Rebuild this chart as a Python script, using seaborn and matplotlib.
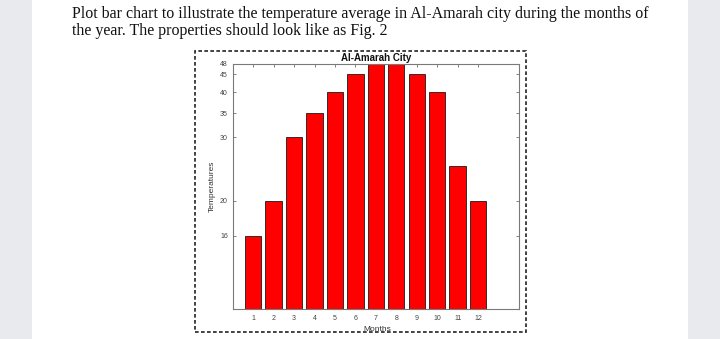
import matplotlib
matplotlib.use("Agg")
import matplotlib.pyplot as plt
from matplotlib.patches import Rectangle
from matplotlib.ticker import FixedLocator, NullLocator, FixedFormatter
import pandas as pd
import seaborn as sns

# Monthly average temperatures for Al-Amarah
months = [1, 2, 3, 4, 5, 6, 7, 8, 9, 10, 11, 12]
temps = [16, 20, 30, 35, 40, 45, 48, 48, 45, 40, 25, 20]
ytick_values = [16, 20, 30, 35, 40, 45, 48]

heading_lines = [
    "Plot bar chart to illustrate the temperature average in Al-Amarah city during the months of",
    "the year. The properties should look like as Fig. 2",
]
chart_title = "Al-Amarah City"
x_title = "Months"
y_title = "Temperatures"

sns.set_style("ticks")
plt.rcParams["font.family"] = ["Liberation Sans", "DejaVu Sans"]

W, H = 720, 339
fig = plt.figure(figsize=(W / 100, H / 100), dpi=100)
fig.patch.set_facecolor("#e9eaed")


def fx(px):
    return px / W


def fy(py):
    return 1 - py / H


# white page area
fig.add_artist(Rectangle((fx(32), 0), fx(688) - fx(32), 1, transform=fig.transFigure,
                         facecolor="white", edgecolor="none", zorder=0))

# heading paragraph
fig.text(fx(72), fy(18.5), heading_lines[0], fontsize=11.5, family="Liberation Serif",
         color="#111111", ha="left", va="baseline")
fig.text(fx(72), fy(35), heading_lines[1], fontsize=11.5, family="Liberation Serif",
         color="#111111", ha="left", va="baseline")

# dashed frame around the figure
fig.add_artist(Rectangle((fx(194.5), fy(332)), fx(526) - fx(194.5), fy(51) - fy(332),
                         transform=fig.transFigure, facecolor="none",
                         edgecolor="#222222", linewidth=1.2, linestyle=(0, (2.2, 1.4)),
                         zorder=5))

ax_left, ax_right, ax_top, ax_bottom = 232.7, 519, 64, 309
ax = fig.add_axes([fx(ax_left), fy(ax_bottom), fx(ax_right) - fx(ax_left), fy(ax_top) - fy(ax_bottom)])
ax.set_facecolor("white")
ax.set_yscale("log")

df = pd.DataFrame({"month": months, "temp": temps})
sns.barplot(data=df, x="month", y="temp", native_scale=True, color="red", saturation=1,
            width=0.8, edgecolor="#1a1a1a", linewidth=0.6, ax=ax)

ax.set_xlim(0, 14)
ax.set_ylim(10, 48)
ax.xaxis.set_major_locator(FixedLocator(months))
ax.xaxis.set_major_formatter(FixedFormatter([str(m) for m in months]))
ax.yaxis.set_major_locator(FixedLocator(ytick_values))
ax.yaxis.set_major_formatter(FixedFormatter([str(v) for v in ytick_values]))
ax.yaxis.set_minor_locator(NullLocator())
ax.xaxis.set_minor_locator(NullLocator())

for s in ax.spines.values():
    s.set_visible(True)
    s.set_color("#7a7a7a")
    s.set_linewidth(0.8)

ax.tick_params(axis="both", which="major", direction="in", length=2.2, width=0.6,
               color="#6a6a6a", labelsize=5, labelcolor="#444444",
               top=True, right=True)
ax.tick_params(axis="x", pad=4.5)
ax.tick_params(axis="y", pad=3.5)

ax.set_title(chart_title, fontsize=7, fontweight="bold", color="#111111", pad=2)
ax.set_xlabel(x_title, fontsize=6, color="#333333")
ax.set_ylabel(y_title, fontsize=6, color="#333333")
ax.xaxis.set_label_coords(0.504, -0.068)
ax.yaxis.set_label_coords(-0.058, 0.5)

fig.savefig("out.png", dpi=100, facecolor=fig.get_facecolor())
